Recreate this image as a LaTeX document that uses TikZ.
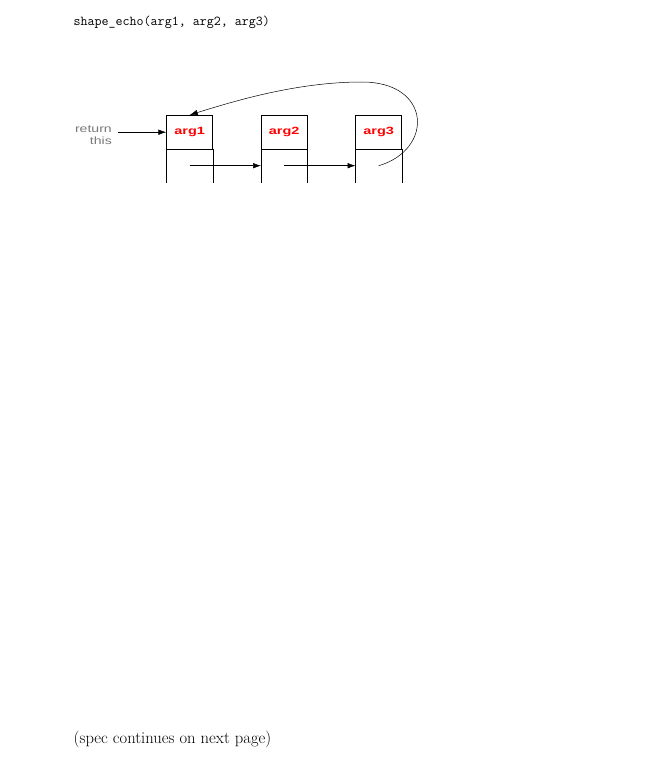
\documentclass[tikz,border=0pt]{standalone}
\usepackage{fontspec}
\newfontfamily\argfont{Liberation Sans}
\usetikzlibrary{arrows.meta}
\definecolor{retgray}{RGB}{120,120,120}

\begin{document}
\begin{tikzpicture}[x=1pt,y=-1pt,
    cell/.style={draw, line width=0.8pt, minimum width=46pt, minimum height=33.7pt, inner sep=0pt},
    slot/.style={minimum width=46pt, minimum height=33.3pt, inner sep=0pt},
    ptr/.style={-{Latex[length=8pt,width=5.5pt]}, line width=0.5pt},
    argtxt/.style={text=red, font=\argfont\bfseries\fontsize{10.5}{12}\selectfont}]
  \useasboundingbox (0,0) rectangle (646,773);

  \node [anchor=base west, inner sep=0pt, font=\ttfamily\fontsize{13.6}{15}\selectfont] (sig) at (73.5,25.7) {shape\_echo(arg1, arg2, arg3)};
  \node [anchor=base west, inner sep=0pt, font=\fontsize{16.6}{18}\selectfont] (cont) at (73.5,743.3) {(spec continues on next page)};

  % top cells with the argument names
  \node [cell] (a1) at (189.7,132.2) {};
  \node [cell] (a2) at (284.2,132.2) {};
  \node [cell] (a3) at (378.7,132.2) {};
  \node [argtxt] at (a1) {\scalebox{1.38}[1]{arg1}};
  \node [argtxt] at (a2) {\scalebox{1.38}[1]{arg2}};
  \node [argtxt] at (a3) {\scalebox{1.38}[1]{arg3}};

  % lower cells, open at the bottom
  \node [slot] (p1) at (189.7,165.7) {};
  \node [slot] (p2) at (284.2,165.7) {};
  \node [slot] (p3) at (378.7,165.7) {};
  \draw [line width=0.8pt] (p1.north west) -- (p1.south west) (p1.north east) -- (p1.south east);
  \draw [line width=0.8pt] (p2.north west) -- (p2.south west) (p2.north east) -- (p2.south east);
  \draw [line width=0.8pt] (p3.north west) -- (p3.south west) (p3.north east) -- (p3.south east);

  % return this
  \node [anchor=east, align=right, text=retgray, inner sep=0pt,
         font=\argfont\fontsize{10.5}{11.5}\selectfont] (ret) at (112,135) {\scalebox{1.34}[1]{return}\\\scalebox{1.34}[1]{this}};
  \draw [ptr] ([xshift=6pt]ret.east |- a1.west) -- (a1.west);

  % next pointers
  \draw [line width=1.2pt] (p1.center) -- (p1.east);
  \draw [ptr] (p1.center) -- (p2.west);
  \draw [line width=1.2pt] (p2.center) -- (p2.east);
  \draw [ptr] (p2.center) -- (p3.west);

  % back to the first cell
  \coordinate (loop) at (362,82);
  \draw [ptr] (p3.center) .. controls +(55,-16) and +(70,0) .. (loop)
        .. controls +(-65,0) and +(45,-14) .. (a1.north);
\end{tikzpicture}
\end{document}
